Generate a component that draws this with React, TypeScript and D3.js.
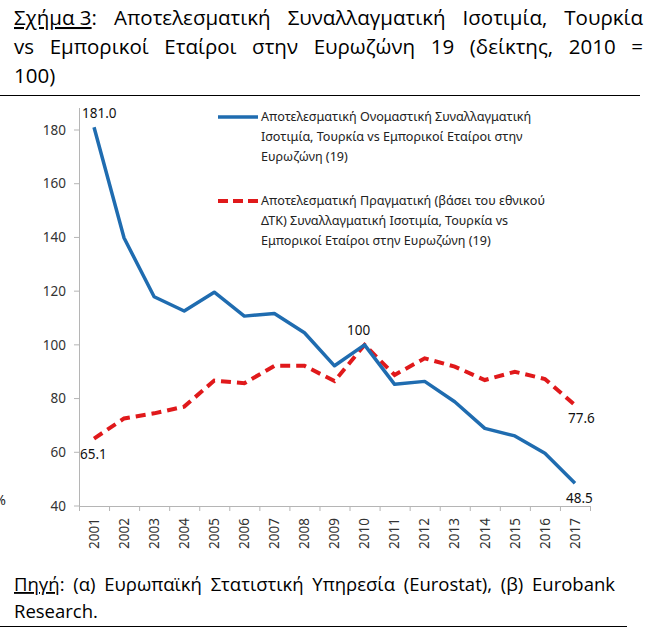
import { useEffect, useRef } from "react";
import * as d3 from "d3";

const years = ["2001", "2002", "2003", "2004", "2005", "2006", "2007", "2008", "2009", "2010", "2011", "2012", "2013", "2014", "2015", "2016", "2017"];
const nominal = [181.0, 139.8, 117.9, 112.6, 119.6, 110.7, 111.7, 104.5, 92.2, 100, 85.3, 86.4, 78.8, 68.9, 66.1, 59.6, 48.5];
const real = [65.1, 72.6, 74.5, 77.0, 86.7, 85.7, 92.2, 92.2, 86.5, 100, 88.8, 95.0, 91.9, 86.9, 90.0, 87.3, 77.6];
const yTicks = [40, 60, 80, 100, 120, 140, 160, 180];

const nominalLegend = [
  "Αποτελεσματική Ονομαστική Συναλλαγματική",
  "Ισοτιμία, Τουρκία vs Εμπορικοί Εταίροι στην",
  "Ευρωζώνη (19)",
];
const realLegend = [
  "Αποτελεσματική Πραγματική (βάσει του εθνικού",
  "ΔΤΚ) Συναλλαγματική Ισοτιμία, Τουρκία vs",
  "Εμπορικοί Εταίροι στην Ευρωζώνη (19)",
];
const titleLines = [
  ["Σχήμα 3:", "Αποτελεσματική", "Συναλλαγματική", "Ισοτιμία,", "Τουρκία"],
  ["vs", "Εμπορικοί", "Εταίροι", "στην", "Ευρωζώνη", "19", "(δείκτης,", "2010", "="],
];
const titleLast = "100)";
const sourceLine = ["Πηγή:", "(α)", "Ευρωπαϊκή", "Στατιστική", "Υπηρεσία", "(Eurostat),", "(β)", "Eurobank"];
const sourceLast = "Research.";

const W = 647;
const H = 636;
const BLUE = "#1f6cb0";
const RED = "#e0191b";
const TEXT_FONT = "'Open Sans', sans-serif";
const CHART_FONT = "'Noto Sans', sans-serif";

type Sel = d3.Selection<SVGSVGElement, unknown, null, undefined>;

// lays words out across [x0, x1] like a justified paragraph line
function justify(svg: Sel, words: string[], x0: number, x1: number, y: number, size: number) {
  const nodes = words.map(w => {
    const t = svg.append("text").attr("y", y).attr("font-family", TEXT_FONT).attr("font-size", size).attr("fill", "#000");
    if (w.endsWith(":") && (w.startsWith("Σχήμα") || w.startsWith("Πηγή"))) {
      t.append("tspan").attr("text-decoration", "underline").text(w.slice(0, -1));
      t.append("tspan").text(":");
    } else {
      t.text(w);
    }
    return t;
  });
  const widths = nodes.map(n => (n.node() as SVGTextElement).getComputedTextLength());
  const total = d3.sum(widths);
  const gap = (x1 - x0 - total) / (words.length - 1);
  let x = x0;
  nodes.forEach((n, i) => {
    n.attr("x", x);
    x += widths[i] + gap;
  });
}

const App = () => {
  const ref = useRef<SVGSVGElement | null>(null);

  useEffect(() => {
    if (!ref.current) return;
    const svg = d3.select(ref.current);
    svg.selectAll("*").remove();

    // title and source
    justify(svg, titleLines[0], 14, 643, 25, 20.5);
    justify(svg, titleLines[1], 14, 643, 54, 20.5);
    svg.append("text").attr("x", 14).attr("y", 83).attr("font-family", TEXT_FONT).attr("font-size", 20.5).text(titleLast);
    svg.append("line").attr("x1", 0).attr("x2", 640).attr("y1", 95.5).attr("y2", 95.5).attr("stroke", "#000").attr("stroke-width", 1.2);

    justify(svg, sourceLine, 14, 615, 591, 18.5);
    svg.append("text").attr("x", 14).attr("y", 618).attr("font-family", TEXT_FONT).attr("font-size", 18.5).text(sourceLast);
    svg.append("line").attr("x1", 0).attr("x2", 627).attr("y1", 626.5).attr("y2", 626.5).attr("stroke", "#000").attr("stroke-width", 1.2);

    // cut-off character at the left edge
    svg.append("text").attr("x", 6).attr("y", 505).attr("text-anchor", "end").attr("font-family", CHART_FONT).attr("font-size", 14).attr("fill", "#222").text("%");

    const x = d3.scaleBand().domain(years).range([79, 590]);
    const y = d3.scaleLinear().domain([40, 180]).range([506, 130]);
    const axisColor = "#b5b5b5";

    const g = svg.append("g");

    // y axis
    g.append("line").attr("x1", 79.5).attr("x2", 79.5).attr("y1", 108).attr("y2", 506).attr("stroke", axisColor);
    yTicks.forEach(t => {
      g.append("line").attr("x1", 74).attr("x2", 79.5).attr("y1", y(t)).attr("y2", y(t)).attr("stroke", axisColor);
      g.append("text")
        .attr("x", 66)
        .attr("y", y(t))
        .attr("dy", "0.35em")
        .attr("text-anchor", "end")
        .attr("font-family", CHART_FONT)
        .attr("font-size", 13.5)
        .attr("fill", "#333")
        .text(t);
    });

    // x axis
    g.append("line").attr("x1", 79).attr("x2", 590).attr("y1", 506.5).attr("y2", 506.5).attr("stroke", axisColor);
    [...years.map(d => x(d)!), 590].forEach(px => {
      g.append("line").attr("x1", px + 0.5).attr("x2", px + 0.5).attr("y1", 506).attr("y2", 511).attr("stroke", axisColor);
    });
    years.forEach(d => {
      const cx = x(d)! + x.bandwidth() / 2;
      g.append("text")
        .attr("transform", `translate(${cx},518) rotate(-90)`)
        .attr("dy", "0.35em")
        .attr("text-anchor", "end")
        .attr("font-family", CHART_FONT)
        .attr("font-size", 13.5)
        .attr("fill", "#333")
        .text(d);
    });

    const line = d3
      .line<number>()
      .x((_, i) => x(years[i])! + x.bandwidth() / 2)
      .y(v => y(v));

    g.append("path").attr("d", line(real)).attr("fill", "none").attr("stroke", RED).attr("stroke-width", 4).attr("stroke-dasharray", "10,6");
    g.append("path").attr("d", line(nominal)).attr("fill", "none").attr("stroke", BLUE).attr("stroke-width", 3.5).attr("stroke-linejoin", "round");

    // data labels
    const labels: [string, number, number][] = [
      ["181.0", 82, 118],
      ["65.1", 80, 459],
      ["100", 347, 335],
      ["77.6", 568, 423],
      ["48.5", 566, 503],
    ];
    labels.forEach(([txt, lx, ly]) => {
      g.append("text").attr("x", lx).attr("y", ly).attr("font-family", CHART_FONT).attr("font-size", 13.5).attr("fill", "#111").text(txt);
    });

    // legend
    const legend = svg.append("g");
    legend.append("line").attr("x1", 218).attr("x2", 258).attr("y1", 117).attr("y2", 117).attr("stroke", BLUE).attr("stroke-width", 3.5);
    legend.append("line").attr("x1", 218).attr("x2", 258).attr("y1", 201).attr("y2", 201).attr("stroke", RED).attr("stroke-width", 4).attr("stroke-dasharray", "10,5");
    [nominalLegend, realLegend].forEach((lines, k) => {
      lines.forEach((l, i) => {
        legend
          .append("text")
          .attr("x", 261)
          .attr("y", (k === 0 ? 117 : 201) + i * 20)
          .attr("dy", "0.35em")
          .attr("font-family", CHART_FONT)
          .attr("font-size", 12.6)
          .attr("fill", "#222")
          .text(l);
      });
    });
  }, []);

  return (
    <div style={{ position: "fixed", left: 0, top: 0, width: W, height: H, background: "#fff" }}>
      <svg ref={ref} width={W} height={H} style={{ display: "block" }} />
    </div>
  );
};

export default App;
